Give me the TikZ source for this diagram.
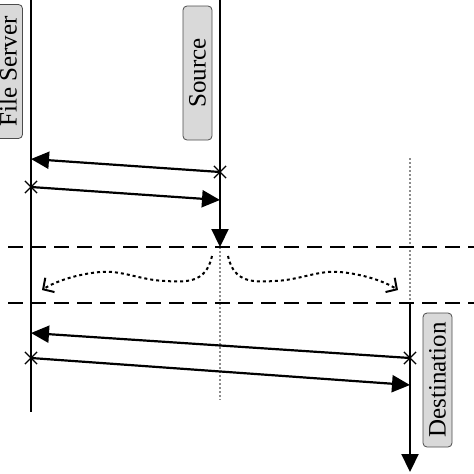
\documentclass[tikz,border=0pt]{standalone}
\usepackage{fontspec}
\setmainfont{Liberation Serif}
\usetikzlibrary{arrows.meta}
\usetikzlibrary{shapes.misc}
\usetikzlibrary{positioning}

\tikzset{
  lifeline/.style={line width=2.2pt},
  msg/.style={line width=2.2pt, -{Triangle[length=18pt,width=17pt]}},
  actor/.style={draw=black!70, fill=black!15, rounded corners=4pt, line width=0.8pt,
    minimum width=134pt, minimum height=29pt, inner sep=0pt, rotate=90,
    font=\fontsize{25}{30}\selectfont},
  xmark/.style={cross out, draw, line width=1.2pt, minimum size=11pt, inner sep=0pt},
  gap/.style={line width=2.2pt, dash pattern=on 15pt off 8pt},
  hop/.style={line width=2pt, dash pattern=on 3pt off 3pt,
    -{Straight Barb[length=8pt,width=17pt,line width=2pt]}},
  ghost/.style={black!45, line width=1.8pt, dash pattern=on 2pt off 2pt}
}

\begin{document}
\begin{tikzpicture}[x=1pt, y=-1pt]
    \useasboundingbox (0,0) rectangle (474,474);

    % actors
    \node [actor] (fs) at (8,71.5) {File Server};
    \node [actor] (src) at (197.5,73) {Source};
    \node [actor] (dst) at (437.5,380) {Destination};

    % lifelines
    \coordinate (fs top) at (31,0);
    \coordinate (fs end) at (31,412);
    \coordinate (src top) at (220,0);
    \coordinate (src end) at (220,247);
    \coordinate (src low) at (220,400);
    \coordinate (dst top) at (410,158);
    \coordinate (dst mid) at (410,303);
    \coordinate (dst end) at (410,472);
    \draw [lifeline] (fs top) -- (fs end);
    \draw [msg] (src top) -- (src end);
    \draw [ghost] (src end) -- (src low);
    \draw [ghost] (dst top) -- (dst mid);
    \draw [msg] (dst mid) -- (dst end);

    % handover window
    \coordinate (gap1 l) at (8,247);
    \coordinate (gap1 r) at (474,247);
    \coordinate (gap2 l) at (8,303);
    \coordinate (gap2 r) at (474,303);
    \draw [gap] (gap1 l) -- (gap1 r);
    \draw [gap] (gap2 l) -- (gap2 r);

    % messages before the move
    \node [xmark] (x1) at (220,172) {};
    \coordinate (fs1) at (31,159);
    \draw [msg] (x1.center) -- (fs1);
    \node [xmark] (x2) at (31,187) {};
    \coordinate (src2) at (220,200);
    \draw [msg] (x2.center) -- (src2);

    % the move
    \coordinate (hl s) at (212,256);
    \coordinate (hl e) at (42,290);
    \coordinate (hr s) at (228,256);
    \coordinate (hr e) at (398,290);
    \draw [hop] (hl s) .. controls (206,284) and (185,282) .. (165,281)
      .. controls (140,280) and (122,270) .. (100,272)
      .. controls (78,274) and (56,281) .. (hl e);
    \draw [hop] (hr s) .. controls (234,284) and (255,282) .. (275,281)
      .. controls (300,280) and (318,270) .. (340,272)
      .. controls (362,274) and (384,281) .. (hr e);

    % messages after the move
    \node [xmark] (x3) at (410,358) {};
    \coordinate (fs3) at (31,333);
    \draw [msg] (x3.center) -- (fs3);
    \node [xmark] (x4) at (31,358) {};
    \coordinate (dst4) at (410,385);
    \draw [msg] (x4.center) -- (dst4);
\end{tikzpicture}
\end{document}
